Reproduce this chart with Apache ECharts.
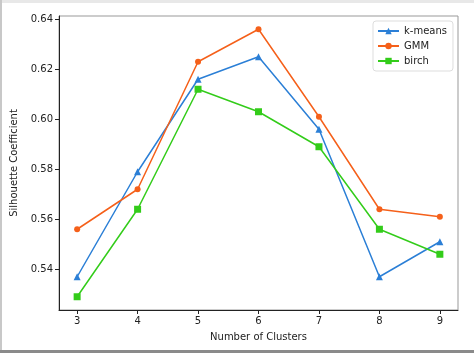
<!DOCTYPE html>
<html><head><meta charset="utf-8">
<script src="https://cdn.jsdelivr.net/npm/echarts@6/dist/echarts.min.js"></script>
<style>html,body{margin:0;padding:0;background:#fff;}#c{width:474px;height:353px;}</style>
</head><body><div id="c"></div>
<script>
const clusters = [3, 4, 5, 6, 7, 8, 9];
const kmeans = [0.537, 0.579, 0.616, 0.625, 0.596, 0.537, 0.551];
const gmm = [0.556, 0.572, 0.623, 0.636, 0.601, 0.564, 0.561];
const birch = [0.529, 0.564, 0.612, 0.603, 0.589, 0.556, 0.546];
const yTicks = [0.54, 0.56, 0.58, 0.60, 0.62, 0.64];

const font = 'DejaVu Sans';
const chart = echarts.init(document.getElementById('c'));
function mk(name, vals, color, symbol, size) {
  return {
    name, type: 'line', data: clusters.map((x, i) => [x, vals[i]]),
    symbol, symbolSize: size, showSymbol: true,
    lineStyle: { color, width: 1.5 }, itemStyle: { color },
    animation: false
  };
}
chart.setOption({
  backgroundColor: '#fff',
  graphic: [
    { type: 'rect', left: 0, top: 0, shape: { width: 474, height: 3 }, style: { fill: '#e8e8e8' }, silent: true },
    { type: 'rect', left: 0, top: 0, shape: { width: 2, height: 353 }, style: { fill: '#c8c8c8' }, silent: true },
    { type: 'rect', left: 0, top: 350, shape: { width: 474, height: 3 }, style: { fill: '#8a8a8a' }, silent: true }
  ],
  grid: { left: 59, right: 16, top: 16, bottom: 43, show: true, borderColor: '#999', borderWidth: 1 },
  legend: {
    orient: 'vertical', left: 373, top: 21, width: 79,
    itemWidth: 21, itemHeight: 8, itemGap: 5,
    padding: [5, 6, 5, 4],
    borderColor: '#ddd', borderWidth: 1, borderRadius: 3,
    textStyle: { fontFamily: font, fontSize: 10, color: '#222' },
    data: ['k-means', 'GMM', 'birch']
  },
  xAxis: {
    type: 'value', min: 2.7, max: 9.3,
    name: 'Number of Clusters', nameLocation: 'middle', nameGap: 22,
    nameTextStyle: { fontFamily: font, fontSize: 10, color: '#222' },
    axisLine: { show: true, lineStyle: { color: '#222', width: 1 } },
    axisTick: { show: true, length: 4, customValues: clusters, lineStyle: { color: '#222' } },
    axisLabel: { customValues: clusters, fontFamily: font, fontSize: 10, color: '#222', margin: 6 },
    splitLine: { show: false }
  },
  yAxis: {
    type: 'value', min: 0.5237, max: 0.6413,
    name: 'Silhouette Coefficient', nameLocation: 'middle', nameGap: 33, nameRotate: 90,
    nameTextStyle: { fontFamily: font, fontSize: 10, color: '#222' },
    axisLine: { show: true, lineStyle: { color: '#222', width: 1 } },
    axisTick: { show: true, length: 4, customValues: yTicks, lineStyle: { color: '#222' } },
    axisLabel: { customValues: yTicks, fontFamily: font, fontSize: 10, color: '#222', margin: 6,
      formatter: v => v.toFixed(2) },
    splitLine: { show: false }
  },
  series: [
    mk('k-means', kmeans, '#2b7fd6', 'triangle', 7),
    mk('GMM', gmm, '#f5601a', 'circle', 6),
    mk('birch', birch, '#33cc1a', 'rect', 7)
  ]
});
</script></body></html>
